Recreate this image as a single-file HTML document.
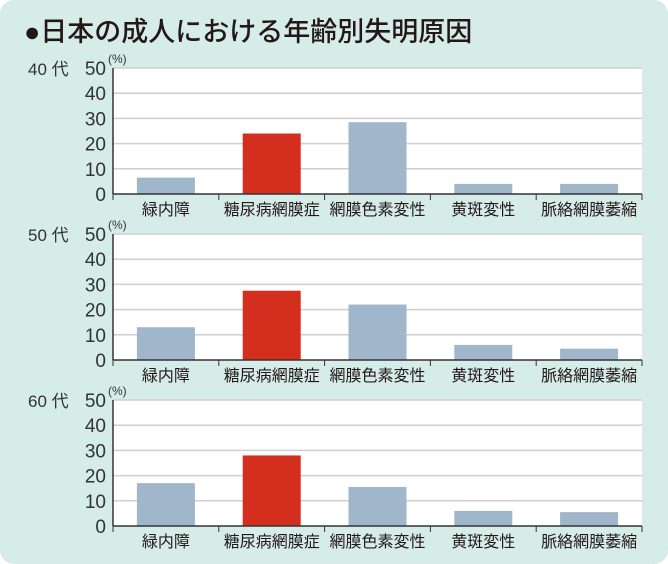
<!DOCTYPE html>
<html><head><meta charset="utf-8"><style>
body{margin:0;background:#fff}
#wrap{width:668px;height:564px;background:#d5ece9;border-radius:14px;position:relative;overflow:hidden}
</style></head><body>
<div id="wrap">
<svg id="svg" width="668" height="564" style="position:absolute;left:0;top:0;font-family:'Liberation Sans','Noto Sans CJK JP',sans-serif">
<text x="24" y="41" font-size="27" fill="#231815" font-weight="500">●日本の成人における年齢別失明原因</text>
</svg>
</div>
<script>
const categories=["緑内障","糖尿病網膜症","網膜色素変性","黄斑変性","脈絡網膜萎縮"];
const panelLabels=["40 代","50 代","60 代"];
const values40=[6.5,24,28.5,4,4];
const values50=[13,27.5,22,6,4.5];
const values60=[17,28,15.5,6,5.5];
const yTicks=[0,10,20,30,40,50];
const series=[values40,values50,values60];
const NS="http://www.w3.org/2000/svg";
const svg=document.getElementById('svg');
function mk(t,a,p){const e=document.createElementNS(NS,t);for(const k in a)e.setAttribute(k,a[k]);(p||svg).appendChild(e);return e;}
const L=113,R=642,H=126,yMax=50;
series.forEach((vals,pi)=>{
  const bottom=194+pi*166, top=bottom-H;
  const g=mk('g',{});
  
  
  const y=v=>bottom-v/yMax*H;
  const bw=(R-L)/categories.length;
  const x=i=>L+bw*i;
  const bg=mk('rect',{x:L,y:top,width:R-L,height:H,fill:'#fff'},g);
  
  yTicks.forEach(t=>{
    if(t>0){const gl=mk('line',{x1:L,x2:R,y1:y(t),y2:y(t),stroke:'#cfcfcf','stroke-width':1.5},g);
      }
    const tx=mk('text',{x:L-7,y:y(t)+7,'text-anchor':'end','font-size':19,fill:'#333'},g);
    tx.textContent=t;
    
  });
  const pl=mk('text',{x:28,y:top+7,'font-size':17,fill:'#333'},g);pl.textContent=panelLabels[pi];
  
  const un=mk('text',{x:108,y:top-5,'font-size':12,fill:'#333'},g);un.textContent='(%)';
  
  vals.forEach((v,i)=>{
    const b=mk('rect',{x:x(i)+bw/2-29,y:y(v),width:58,height:bottom-y(v),fill:i===1?'#d42e1e':'#a0b6cb'},g);
    
    const c=mk('text',{x:x(i)+bw/2,y:bottom+21,'text-anchor':'middle','font-size':16,fill:'#231815'},g);
    c.textContent=categories[i];
    
  });
  for(let i=0;i<=categories.length;i++){
    const tk=mk('line',{x1:x(i),x2:x(i),y1:bottom,y2:bottom+6,stroke:'#333','stroke-width':1},g);
    
  }
  const ax=mk('line',{x1:L,x2:R,y1:bottom,y2:bottom,stroke:'#333','stroke-width':1.5},g);
  
  const ay=mk('line',{x1:L,x2:L,y1:top,y2:bottom,stroke:'#333','stroke-width':1.5},g);
  
});
</script>
</body></html>
